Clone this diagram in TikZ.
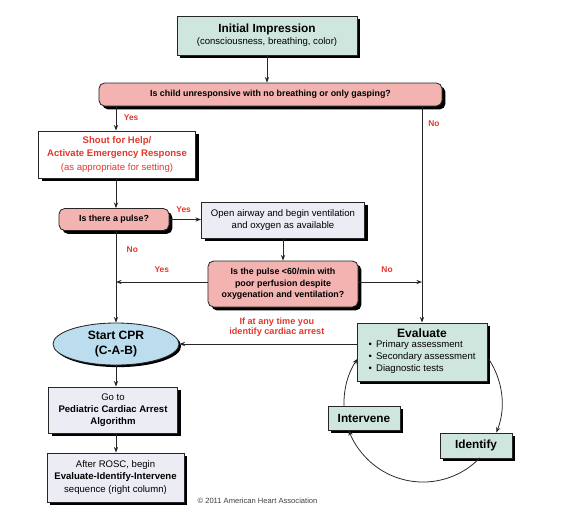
\documentclass[tikz,border=0pt]{standalone}
\usepackage{fontspec}
\setmainfont{Liberation Sans}
\usetikzlibrary{positioning, arrows.meta, shapes.geometric, shadows, calc}
\definecolor{pahsTeal}{HTML}{CFE6DF}
\definecolor{pahsPink}{HTML}{F2B3B1}
\definecolor{pahsLilac}{HTML}{ECECF5}
\definecolor{pahsSky}{HTML}{BCDDEE}
\definecolor{pahsRed}{HTML}{E2382B}

\begin{document}
\begin{tikzpicture}[x=0.025cm, y=0.025cm,
            box/.style={rectangle, draw=black!85, line width=0.6pt, inner sep=0pt, align=center,
                        font=\fontsize{6.8}{8.6}\selectfont,
                        drop shadow={shadow xshift=2.4pt, shadow yshift=-2.4pt, opacity=1, fill=black}},
            assess/.style={box, fill=pahsTeal},
            decide/.style={box, fill=pahsPink, rounded corners=4pt,
                           font=\bfseries\fontsize{6.3}{8.3}\selectfont},
            action/.style={box, fill=pahsLilac},
            head/.style={font=\bfseries\fontsize{8.4}{10}\selectfont},
            arrow/.style={-{Stealth[length=4pt, width=3pt]}, line width=0.55pt, black!85},
            lbl/.style={font=\bfseries\fontsize{6}{7.5}\selectfont, text=pahsRed},
        ]
            \useasboundingbox (0,0) rectangle (562,-516);

            % Top of the chart
            \node[assess, minimum width=4.5cm, minimum height=0.975cm] (init) at (267,-35.5)
                {{\bfseries\fontsize{8.4}{10}\selectfont Initial Impression}\\(consciousness, breathing, color)};
            \node[decide, minimum width=8.575cm, minimum height=0.575cm] (unresp) at (270.5,-94.5)
                {Is child unresponsive with no breathing or only gasping?};
            \draw[arrow] (init.south) -- (init.south |- unresp.north);

            % Left column
            \node[box, fill=white, text=pahsRed, minimum width=3.925cm, minimum height=1.175cm,
                  font=\fontsize{6.8}{9.4}\selectfont] (shout) at (117,-154.5)
                {\textbf{Shout for Help/}\\\textbf{Activate Emergency Response}\\(as appropriate for setting)};
            \node[decide, minimum width=2.75cm, minimum height=0.55cm] (pulse) at (114,-219.5)
                {Is there a pulse?};
            \node[action, minimum width=4.075cm, minimum height=0.9cm] (airway) at (283,-220)
                {Open airway and begin ventilation\\and oxygen as available};
            \node[decide, minimum width=3.75cm, minimum height=1.15cm] (slow) at (283,-284)
                {Is the pulse <60/min with\\poor perfusion despite\\oxygenation and ventilation?};
            \node[ellipse, draw=black!85, line width=0.6pt, fill=pahsSky, inner sep=0pt,
                  minimum width=3.15cm, minimum height=1.05cm, align=center,
                  font=\bfseries\fontsize{8.6}{10.2}\selectfont,
                  drop shadow={shadow xshift=1.5pt, shadow yshift=-1.5pt, opacity=1, fill=black}] (cpr) at (116,-344)
                {Start CPR\\(C-A-B)};
            \node[action, minimum width=3.225cm, minimum height=1.15cm] (goto) at (113,-410)
                {Go to\\\textbf{Pediatric Cardiac Arrest}\\\textbf{Algorithm}};
            \node[action, minimum width=3.425cm, minimum height=1.225cm] (rosc) at (115.5,-477.5)
                {After ROSC, begin\\\textbf{Evaluate-Identify-Intervene}\\sequence (right column)};

            % Right column, the cycle
            \node[assess, minimum width=3.25cm, minimum height=1.45cm] (eval) at (422,-352)
                {{\bfseries\fontsize{8.6}{10}\selectfont Evaluate}\\
                 \begin{tabular}{@{}l@{}}\textbullet\ \,Primary assessment\\
                 \textbullet\ \,Secondary assessment\\\textbullet\ \,Diagnostic tests\end{tabular}};
            \node[assess, head, minimum width=1.8cm, minimum height=0.6cm] (interv) at (364,-418)
                {Intervene};
            \node[assess, head, minimum width=1.8cm, minimum height=0.625cm] (ident) at (476,-445.5)
                {Identify};
            \coordinate (cyc) at (423,-403);

            % Connectors
            \draw[arrow] (unresp.south -| cpr) -- node[lbl, right=2pt, pos=0.45] {Yes} (shout.north -| cpr);
            \draw[arrow] (unresp.south -| eval) -- (eval.north);
            \node[lbl] (noTop) at (434,-124) {No};
            \draw[arrow] (shout.south -| cpr) -- (pulse.north -| cpr);
            \draw[arrow] (pulse.east) -- node[lbl, above=1pt, pos=0.45] {Yes} (pulse.east -| airway.west);
            \draw[arrow] (pulse.south -| cpr) -- node[lbl, right=4pt, pos=0.2] {No} (cpr.north);
            \draw[arrow] (airway.south) -- (slow.north);
            \draw[arrow] (slow.west |- 0,-282) -- node[lbl, above=3pt] {Yes} (cpr |- 0,-282);
            \draw[arrow] (slow.east |- 0,-282) -- node[lbl, above=3pt, pos=0.45] {No} (eval |- 0,-282);
            \draw[arrow] (eval.west |- cpr.east) -- node[lbl, above=1.5pt, pos=0.45, align=center,
                  font=\bfseries\fontsize{6.5}{7.4}\selectfont] {If at any time you\\identify cardiac arrest} (cpr.east);
            \draw[arrow] (cpr.south) -- (cpr |- goto.north);
            \draw[arrow] (goto.south -| cpr) -- (cpr |- rosc.north);

            % Evaluate - Identify - Intervene cycle
            \draw[arrow] ($(cyc)+(34:1.975cm)$) arc[start angle=34, end angle=-22, radius=1.975cm];
            \draw[arrow] ($(cyc)+(-44:1.975cm)$) arc[start angle=-44, end angle=-160, radius=1.975cm];
            \draw[arrow] ($(cyc)+(182:1.975cm)$) arc[start angle=182, end angle=146, radius=1.975cm];

            \node[font=\fontsize{5.4}{6}\selectfont, text=black!75] (copy) at (257.5,-501)
                {\textcopyright\ 2011 American Heart Association};
        \end{tikzpicture}
\end{document}
